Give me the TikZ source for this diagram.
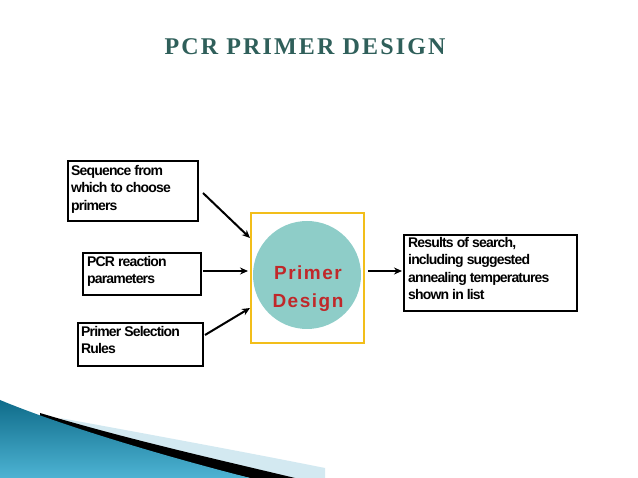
\documentclass[tikz,border=0pt]{standalone}
\usepackage{fontspec}
\setmainfont{Liberation Serif}
\setsansfont{Liberation Sans}
\newfontfamily\narrowsans[LetterSpace=-6]{Liberation Sans}
\newfontfamily\widesans[LetterSpace=8]{Liberation Sans}
\newfontfamily\titleserif[LetterSpace=9]{Liberation Serif}
\usetikzlibrary{arrows.meta}
\definecolor{titlec}{HTML}{2F5F5A}
\definecolor{circc}{HTML}{8ECDC8}
\definecolor{goldc}{HTML}{F2BE1A}
\definecolor{redc}{HTML}{C0282A}
\definecolor{tealA}{HTML}{0F6C8A}
\definecolor{tealB}{HTML}{4DB3D3}
\definecolor{paleb}{HTML}{D3E9F1}
\tikzset{
 boxline/.style={draw, line width=1.1pt},
 intext/.style={align=left, anchor=north west, inner sep=0pt,
   font=\narrowsans\bfseries\fontsize{14}{17.5}\selectfont},
 arr/.style={-{Stealth[length=8pt,width=7pt]}, line width=2pt}
}
\begin{document}
\begin{tikzpicture}[x=1pt,y=-1pt]
\useasboundingbox (0,0) rectangle (638,478);
\fill[white] (0,0) rectangle (638,478);
% bottom decoration
\fill[paleb] (60,418) .. controls (180,440) and (260,455) .. (325,468) -- (325,478) -- (200,478) -- cycle;
\fill[black] (40,413) .. controls (130,440) and (220,460) .. (295,478) -- (250,478) .. controls (180,462) and (100,440) .. (40,420) -- cycle;
\shade[left color=tealA, right color=tealB, shading angle=0] (0,400) .. controls (60,425) and (160,455) .. (250,478) -- (0,478) -- cycle;
% title
\node[text=titlec, font=\titleserif\bfseries\fontsize{24}{26}\selectfont] (title) at (305,47) {PCR PRIMER DESIGN};
% boxes
\draw[boxline] (68,161) rectangle (198,221);
\node[intext] (b1) at (71,165) {Sequence from\\ which to choose\\ primers};
\draw[boxline] (83,253) rectangle (201,295);
\node[intext] (b2) at (87,256) {PCR reaction\\ parameters};
\draw[boxline] (78,323) rectangle (203,366);
\node[intext] (b3) at (81,326) {Primer Selection\\ Rules};
\node[draw=goldc, line width=2.8pt, minimum width=113pt, minimum height=130pt] (sq) at (307.5,278) {};
\node[circle, fill=circc, minimum size=108pt, inner sep=0pt] (c) at (307,275) {};
\node[text=redc, font=\widesans\bfseries\fontsize{19}{28}\selectfont, align=center] (t) at (308,289) {Primer\\ Design};
\draw[boxline] (404,235) rectangle (577,311);
\node[intext] (r) at (408,237) {Results of search,\\ including suggested\\ annealing temperatures\\ shown in list};
% arrows
\coordinate (s1) at (203,193); \coordinate (a1) at (250,238);
\coordinate (s2) at (203,271); \coordinate (a2) at (248,271);
\coordinate (s3) at (205,335); \coordinate (a3) at (250,308);
\coordinate (s4) at (368,271); \coordinate (a4) at (402,271);
\draw[arr] (s1) -- (a1);
\draw[arr] (s2) -- (a2);
\draw[arr] (s3) -- (a3);
\draw[arr] (s4) -- (a4);
\end{tikzpicture}
\end{document}
